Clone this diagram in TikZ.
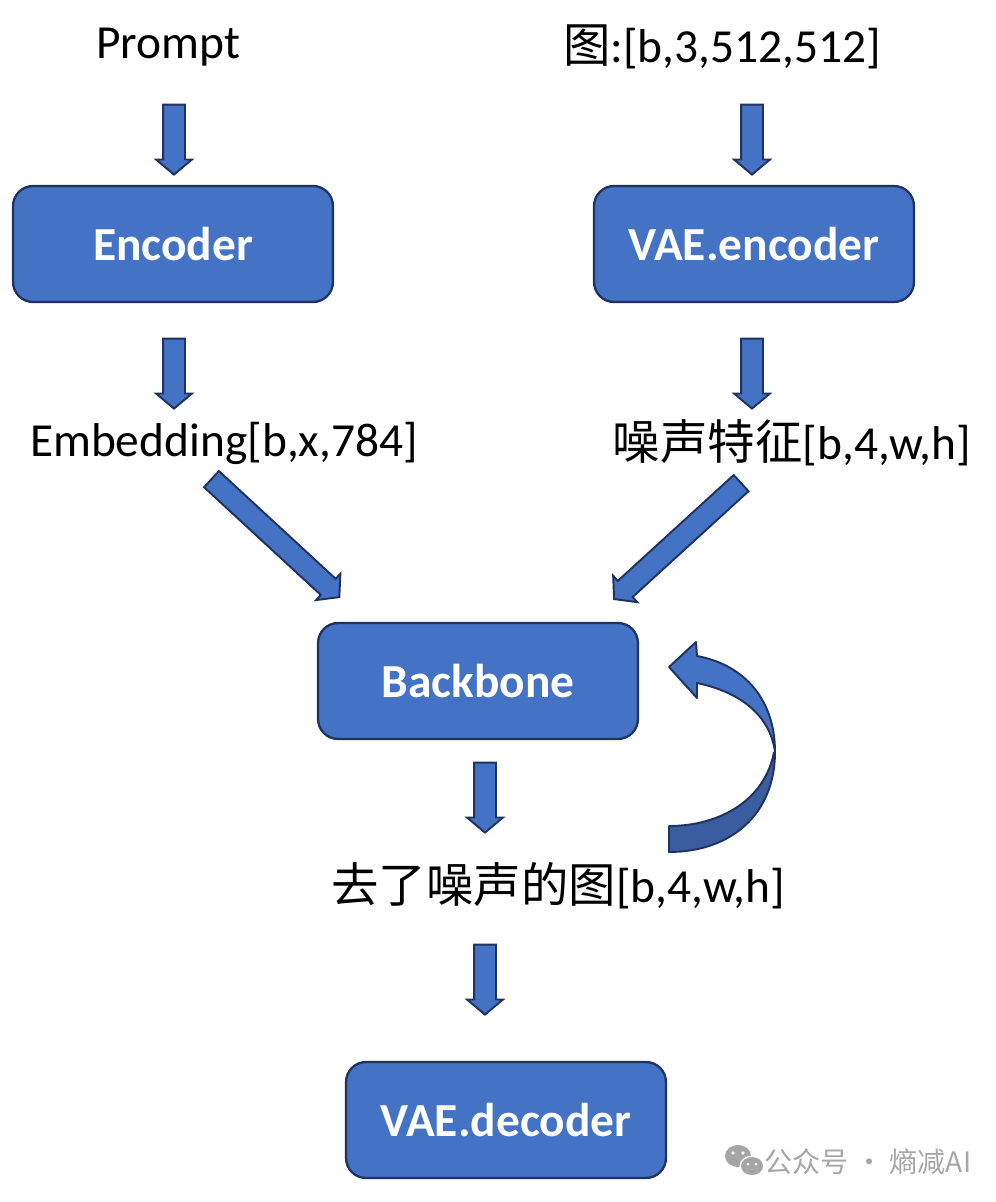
\documentclass[tikz,border=0pt]{standalone}
\usepackage{fontspec}
\setmainfont{Carlito}
\newfontfamily\cjk{Noto Sans CJK SC}
\usetikzlibrary{shapes.arrows}
\definecolor{boxblue}{HTML}{4472C4}
\definecolor{edgeblue}{HTML}{1F3260}
\definecolor{darkblue}{HTML}{3A5DA0}
\definecolor{wmgray}{HTML}{A6A6A6}
\tikzset{
  box/.style={draw=edgeblue, line width=1.3pt, fill=boxblue, rounded corners=0.4cm,
    minimum width=6.4cm, minimum height=2.32cm, text=white, font=\fontsize{27}{32}\selectfont\bfseries},
  lbl/.style={font=\fontsize{27}{32}\selectfont, inner sep=0pt},
  barrow/.style={single arrow, draw=edgeblue, line width=1.1pt, fill=boxblue,
    inner xsep=0pt, inner ysep=0.2cm, single arrow tip angle=100,
    minimum width=0.68cm, single arrow head extend=0.14cm, minimum height=#1},
  barrow/.default=1.4cm
}
\begin{document}
\begin{tikzpicture}[x=0.02cm, y=-0.02cm]
\useasboundingbox (0,0) rectangle (996,1202);
% texts
\node[lbl] (prompt) at (168,47) {Prompt};
\node[lbl] (img) at (722,47) {{\cjk 图}:[b,3,512,512]};
\node[lbl] (emb) at (224,443) {Embedding[b,x,784]};
\node[lbl] (noise) at (792,443) {{\cjk 噪声特征}[b,4,w,h]};
\node[lbl] (denoised) at (558,886) {{\cjk 去了噪声的图}[b,4,w,h]};
% boxes
\node[box] (enc) at (173,244) {Encoder};
\node[box] (vaeenc) at (754,244) {VAE.encoder};
\node[box] (backbone) at (478,681) {Backbone};
\node[box] (vaedec) at (506,1120) {VAE.decoder};
% block arrows
\node[barrow, rotate=-90] (a1) at (174,135) {};
\node[barrow, rotate=-90] (a2) at (752,135) {};
\node[barrow, rotate=-90] (a3) at (174,369) {};
\node[barrow, rotate=-90] (a4) at (752,369) {};
\node[barrow=3.48cm, rotate=-42.7] (a5) at (272,535) {};
\node[barrow=3.44cm, rotate=-137.6] (a6) at (681,538) {};
\node[barrow, rotate=-90] (a7) at (485,793) {};
\node[barrow, rotate=-90] (a8) at (485,975) {};
% curved loop arrow
\draw[fill=darkblue, draw=edgeblue, line width=1.1pt, line join=round]
  (775,752) .. controls (775,815) and (730,852) .. (669,852) -- (669,826)
  .. controls (720,826) and (765,800) .. (774,752);
\draw[fill=boxblue, draw=edgeblue, line width=1.1pt, line join=round]
  (697,656) .. controls (745,665) and (775,700) .. (775,752)
  .. controls (770,715) and (740,692) .. (697,683)
  -- (697,698) -- (669,667) -- (696,642) -- cycle;
% watermark
\fill[wmgray] (738,1156) ellipse (13 and 11);
\fill[white] (752,1166) ellipse (12.5 and 10.5);
\fill[wmgray] (752,1166) ellipse (11 and 9);
\fill[white] (733,1153) circle (1.8) (743,1153) circle (1.8) (748,1164) circle (1.5) (756,1164) circle (1.5);
\node[font=\cjk\fontsize{16}{18}\selectfont, text=wmgray, inner sep=0pt] (wm) at (868,1162) {公众号 · 熵减AI};
\end{tikzpicture}
\end{document}
